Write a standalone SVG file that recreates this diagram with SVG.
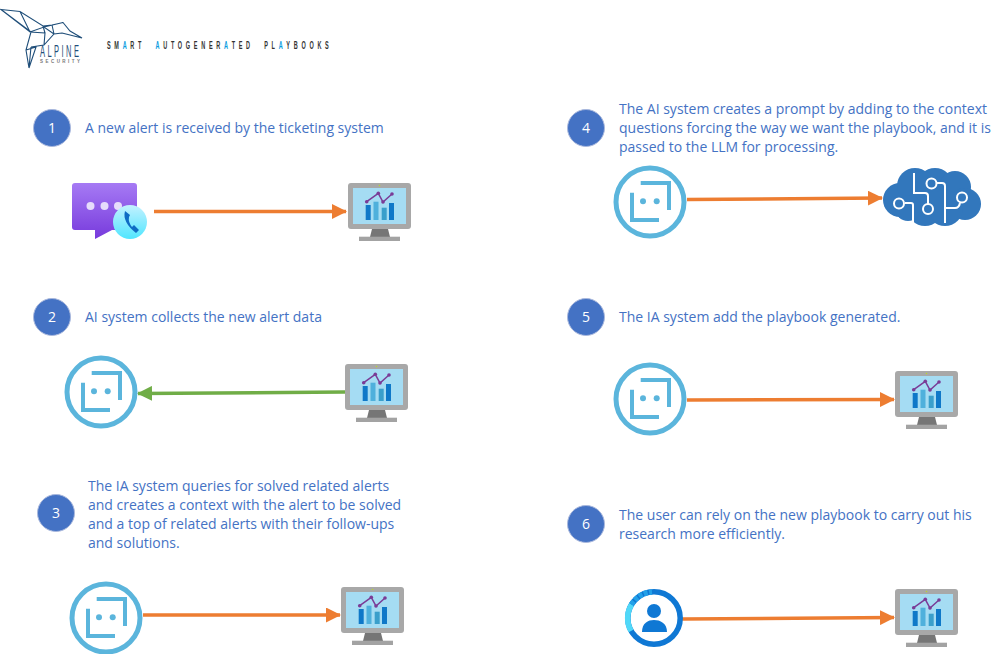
<svg xmlns="http://www.w3.org/2000/svg" width="1004" height="654" viewBox="0 0 1004 654">
<style>
.t{font-family:"Open Sans","Liberation Sans",sans-serif;font-size:14px;fill:#4472c4}
.n{font-family:"Open Sans","Liberation Sans",sans-serif;font-size:14px;fill:#fff;text-anchor:middle}
.b{fill:#4472c4;stroke:#a9b8dd;stroke-width:1}
.c{fill:none;stroke-width:3.500}
.title{font-family:"Liberation Sans",sans-serif;font-size:11.500px;font-weight:bold;fill:#333;white-space:pre}
.title .a{fill:#0a9ce0}
.bird{fill:none;stroke:#1f4e79;stroke-width:1.100}
</style>
<defs>
<marker id="oa" markerUnits="userSpaceOnUse" markerWidth="15" markerHeight="15" refX="14" refY="7.500" orient="auto"><path d="M0 0L15 7.500L0 15Z" fill="#ed7d31"/></marker>
<marker id="ga" markerUnits="userSpaceOnUse" markerWidth="15" markerHeight="15" refX="14" refY="7.500" orient="auto"><path d="M0 0L15 7.500L0 15Z" fill="#70ad47"/></marker>
<linearGradient id="vio" x1="0" y1="0" x2="0" y2="1"><stop offset="0" stop-color="#a67af4"/><stop offset="1" stop-color="#773adc"/></linearGradient>
<linearGradient id="cy" x1="0" y1="0" x2="0" y2="1"><stop offset="0" stop-color="#c3f1ff"/><stop offset="1" stop-color="#50e6ff"/></linearGradient>
<g id="mon">
<path d="M24 46h16l2 8H22z" fill="#767676"/>
<rect x="11" y="53.700" width="41" height="4.300" fill="#a3a3a3"/>
<rect x="0" y="0" width="63" height="46" rx="3" fill="#a8a8a8"/>
<rect x="5" y="5" width="53" height="36" fill="#a5dcf3"/>
<circle cx="31.500" cy="2.500" r="0.800" fill="#b8d432"/>
<rect x="17.700" y="22" width="5" height="15" fill="#0f78c8"/>
<rect x="25.500" y="18.700" width="5" height="18.300" fill="#4fb0dc"/>
<rect x="33.700" y="24.700" width="5" height="12.300" fill="#3a9fcb"/>
<rect x="41" y="20" width="5" height="17" fill="#0f78c8"/>
<path d="M18.700 18.700L30.300 10.300L35 19L44 11" fill="none" stroke="#7a3b96" stroke-width="1.500"/>
<circle cx="18.700" cy="18.700" r="1.800" fill="#7a3b96"/><circle cx="30.300" cy="10.300" r="1.800" fill="#7a3b96"/><circle cx="35" cy="19" r="1.800" fill="#7a3b96"/><circle cx="44" cy="11" r="1.800" fill="#7a3b96"/>
</g>
<g id="bot">
<circle r="34" fill="#fff" stroke="#5bb5dc" stroke-width="5"/>
<path d="M-9.300 -19H19V8M-18 -9.300V18H9" fill="none" stroke="#5bb5dc" stroke-width="4"/>
<circle cx="-7" cy="-0.700" r="3" fill="#5bb5dc"/><circle cx="6.700" cy="-0.700" r="3" fill="#5bb5dc"/>
</g>
</defs>

<g id="logo">
<g class="bird">
<path d="M1 9.500L20 11.500L43 26L52 25L63 22.500L70 31L82 38L62 33L54 34L44 45L31 47L36 47L29 68L26 50L31 32ZM1 9.500L30 32L44 27L54 34M20 11.500L30 32L45 33L44 45M43 26L45 33M52 25L54 34M44 27L63 22.500M31 47L29 68M26 50L36 47"/>
</g>
<text transform="translate(40,56.500) scale(.5,1.050)" style="font-family:'Liberation Sans',sans-serif;font-size:15px;fill:#1f4e79" textLength="78" lengthAdjust="spacing">ALPINE</text>
<text x="40" y="62.500" style="font-family:'Liberation Sans',sans-serif;font-size:4.500px;font-weight:bold;fill:#777" textLength="40">SECURITY</text>
</g>
<text id="title" class="title" transform="translate(107,48.500) scale(.48,1)" textLength="462" lengthAdjust="spacing" xml:space="preserve">SM<tspan class="a">A</tspan>RT  <tspan class="a">A</tspan>UTOGENER<tspan class="a">A</tspan>TED  PL<tspan class="a">A</tspan>YBOOKS</text>

<g id="connectors">
<path class="c" stroke="#ed7d31" d="M154 211.500H346" marker-end="url(#oa)"/>
<path class="c" stroke="#70ad47" d="M345 392L138 393.500" marker-end="url(#ga)"/>
<path class="c" stroke="#ed7d31" d="M143 615H340" marker-end="url(#oa)"/>
<path class="c" stroke="#ed7d31" d="M687 199.500L882 198" marker-end="url(#oa)"/>
<path class="c" stroke="#ed7d31" d="M687 400L894 399.500" marker-end="url(#oa)"/>
<path class="c" stroke="#ed7d31" d="M682 619L894 617.500" marker-end="url(#oa)"/>
</g>

<g id="step1"><circle class="b" cx="52" cy="128" r="18.500"/><text class="n" x="52" y="133">1</text><text class="t" x="85" y="133">A new alert is received by the ticketing system</text></g>
<g id="step2"><circle class="b" cx="52" cy="317" r="18.500"/><text class="n" x="52" y="322">2</text><text class="t" x="85" y="322">AI system collects the new alert data</text></g>
<g id="step3"><circle class="b" cx="56" cy="513" r="18.500"/><text class="n" x="56" y="518">3</text><text class="t"><tspan x="88" y="491">The IA system queries for solved related alerts</tspan><tspan x="88" y="510">and creates a context with the alert to be solved</tspan><tspan x="88" y="529">and a top of related alerts with their follow-ups</tspan><tspan x="88" y="548">and solutions.</tspan></text></g>
<g id="step4"><circle class="b" cx="586" cy="128" r="18.500"/><text class="n" x="586" y="133">4</text><text class="t"><tspan x="619" y="114">The AI system creates a prompt by adding to the context</tspan><tspan x="619" y="133">questions forcing the way we want the playbook, and it is</tspan><tspan x="619" y="152">passed to the LLM for processing.</tspan></text></g>
<g id="step5"><circle class="b" cx="586" cy="317" r="18.500"/><text class="n" x="586" y="322">5</text><text class="t" x="619" y="322">The IA system add the playbook generated.</text></g>
<g id="step6"><circle class="b" cx="586" cy="524" r="18.500"/><text class="n" x="586" y="529">6</text><text class="t"><tspan x="619" y="520">The user can rely on the new playbook to carry out his</tspan><tspan x="619" y="539">research more efficiently.</tspan></text></g>

<g id="chat-phone">
<path d="M75 183H134Q137 183 137 186V227Q137 230 134 230H112L95 239V230H75Q72 230 72 227V186Q72 183 75 183Z" fill="url(#vio)"/>
<circle cx="90.500" cy="206" r="4" fill="#e6dcfb"/><circle cx="104.500" cy="206" r="4" fill="#e6dcfb"/><circle cx="118" cy="206" r="4" fill="#e6dcfb"/>
<circle cx="130" cy="222" r="17" fill="url(#cy)"/>
<path d="M125 211Q122 222 136 233L139 230L134 225L132 227Q128 222 129 217L130 215Z" fill="#0f6cc4"/>
</g>
<use id="monitor1" href="#mon" x="348" y="183"/>
<use id="monitor2" href="#mon" x="345" y="364"/>
<use id="monitor3" href="#mon" x="341" y="587"/>
<use id="monitor5" href="#mon" x="895" y="371"/>
<use id="monitor6" href="#mon" x="895" y="589"/>
<use id="bot2" href="#bot" x="101" y="392"/>
<use id="bot3" href="#bot" x="106" y="618"/>
<use id="bot4" href="#bot" x="650" y="202"/>
<use id="bot5" href="#bot" x="650" y="399"/>

<g id="brain">
<g fill="#3277bc">
<circle cx="900" cy="200" r="17"/><circle cx="915" cy="186" r="18"/><circle cx="935" cy="186" r="18"/><circle cx="955" cy="187" r="16"/><circle cx="965" cy="204" r="16"/><circle cx="945" cy="208" r="18"/><circle cx="925" cy="208" r="18"/><circle cx="908" cy="208" r="13"/>
</g>
<g fill="none" stroke="#fff" stroke-width="2">
<path d="M914 173V193H925Q928 193 928 196V204M937 183H942Q945 183 945 186V223M945 208H955Q959 208 960 203M905 203H911Q913 203 913 205V223"/>
<circle cx="931.500" cy="183.500" r="5"/><circle cx="928" cy="209" r="5"/><circle cx="899" cy="203.500" r="5"/><circle cx="962" cy="197.500" r="5"/>
</g>
</g>

<g id="user">
<circle cx="654" cy="618" r="26.200" fill="#fff" stroke="#0f78d4" stroke-width="5.500"/>
<path d="M631 631A26.200 26.200 0 0 1 631.500 604.500" fill="none" stroke="#50d8f8" stroke-width="5.500"/>
<path d="M631.500 604.500A26.200 26.200 0 0 1 652 591.900" fill="none" stroke="#22a0e8" stroke-width="5.500" stroke-dasharray="4 1.500"/>
<circle cx="654" cy="611" r="7" fill="#0f78d4"/>
<path d="M642 632C642 623 648 620 654 620S667 623 667 632Z" fill="#0f78d4"/>
</g>
</svg>
